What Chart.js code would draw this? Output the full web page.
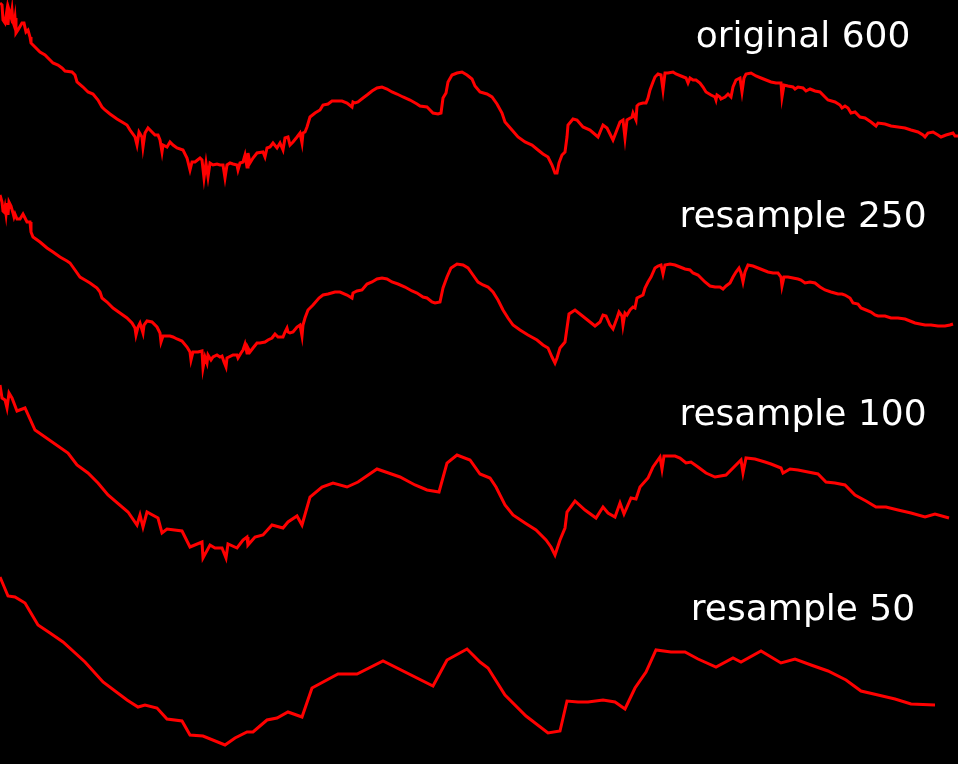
<!DOCTYPE html>
<html>
<head>
<meta charset="utf-8">
<script src="https://cdn.jsdelivr.net/npm/chart.js@4"></script>
<style>
  html, body { margin: 0; padding: 0; background: #000; }
  canvas { display: block; }
</style>
</head>
<body>
<canvas id="spec" width="958" height="764"></canvas>
<script>
// spectrum at the original resolution and three resampled versions
// x = wavelength channel, y = flux (arbitrary units)

const seriesNames = ["original 600", "resample 250", "resample 100", "resample 50"]

const waveOrig = [0,2,3,5,7,8,9,11,12,13,14,15,16,18,22,24,26,28,30,31,33,40,45,50,53,58,62,65,72,75,77,83,88,93,98,102,105,110,117,122,127,130,135,137,139,142,143,145,148,152,155,158,160,162,163,167,170,173,177,183,187,190,192,195,200,202,204,206,208,210,213,217,220,223,225,227,230,233,237,238,240,243,245,247,248,250,253,257,263,265,267,270,273,277,280,283,285,288,290,293,297,300,302,303,305,307,310,315,320,
  323,328,332,342,347,352,353,355,358,363,367,372,377,382,387,392,397,403,410,417,420,427,430,433,438,441,443,446,448,452,457,462,467,472,475,480,487,492,497,502,505,512,518,525,532,538,543,548,552,555,557,559,562,565,567,568,573,577,583,590,598,603,607,613,620,623,625,627,632,633,636,637,639,
  643,646,648,650,653,655,658,661,663,665,668,673,676,681,686,688,690,693,696,700,703,706,711,715,716,717,720,721,725,728,731,733,736,740,742,744,746,751,756,761,766,771,776,781,782,784,788,793,795,798,803,806,810,815,820,825,828,835,840,842,845,848,851,855,860,865,871,876,878,885,891,898,905,911,918,923,925,928,933,938,941,946,953,955,958]
const fluxOrig = [191,189,174,171,184,169,184,177,184,172,169,176,161,164,171,171,162,164,157,151,149,142,139,134,131,129,126,123,122,119,112,107,102,100,94,87,84,80,75,72,69,64,57,49,62,57,47,61,66,62,59,59,54,42,49,47,52,49,46,44,36,24,32,32,36,34,16,31,17,31,29,30,29,29,16,29,31,30,29,24,31,32,39,27,41,31,36,41,42,37,46,47,51,46,51,44,56,57,49,52,57,61,51,61,62,67,77,81,84,
  89,90,93,93,91,87,92,91,92,96,99,103,106,107,105,102,100,97,94,90,88,87,84,81,80,81,96,101,112,119,121,122,119,115,108,102,100,97,90,81,72,64,57,52,49,44,40,37,29,21,21,31,39,42,57,69,75,74,67,64,57,69,66,54,72,74,56,74,77,81,74,88,90,
  91,91,96,104,112,117,120,119,104,121,121,122,120,118,116,111,116,114,114,111,107,102,99,97,94,99,97,95,97,100,97,107,114,116,102,116,120,121,118,116,114,112,111,111,97,109,108,107,105,107,106,103,105,103,102,97,94,92,89,86,88,86,81,82,77,76,72,68,71,70,68,67,66,64,62,59,57,61,62,59,57,59,61,58,58]

const wave250 = [0,2,3,4,5,6,7,8,9,11,13,14,15,17,20,23,25,27,30,31,33,40,47,53,60,67,70,75,80,85,90,97,100,102,107,113,120,127,132,135,136,138,140,143,144,147,152,157,160,161,163,170,173,177,182,187,190,191,193,198,202,203,205,207,208,211,213,217,220,222,224,226,227,233,237,238,241,243,245,247,248,250,253,257,260,265,268,272,275,278,283,285,287,288,290,293,297,300,302,303,305,308,313,319,
  323,328,335,340,347,352,353,357,362,367,372,377,382,387,392,398,405,412,417,423,427,432,435,440,443,447,451,457,463,468,473,478,483,488,493,498,503,508,513,520,528,537,543,548,552,555,557,560,565,567,569,575,580,585,590,595,600,603,606,610,613,617,619,622,623,625,627,630,633,635,637,
  643,645,648,651,655,658,661,663,665,670,675,680,685,690,693,698,701,705,710,715,720,723,726,730,733,736,739,741,743,745,748,753,758,763,768,773,778,781,782,784,788,793,798,801,805,810,815,820,825,831,838,842,845,850,853,858,861,866,871,875,878,885,891,898,905,910,915,920,925,931,938,945,950,953]
const flux250 = [189,182,173,172,177,170,181,169,182,178,171,167,170,165,165,170,166,162,162,152,147,142,136,132,127,123,121,114,107,104,101,96,92,86,82,76,71,66,61,56,49,57,61,51,59,63,62,57,51,42,48,48,47,45,43,37,32,24,32,32,33,16,27,21,29,24,27,29,27,28,22,17,26,29,29,26,31,34,40,31,36,32,36,41,41,42,44,46,50,47,47,52,56,52,51,52,57,59,48,59,66,74,79,86,
  89,90,92,92,89,86,91,93,94,100,102,105,106,105,102,100,97,93,91,87,86,82,81,82,96,107,116,120,119,116,109,102,99,97,92,84,74,66,59,54,49,44,39,36,27,21,26,36,42,56,70,74,70,66,62,58,62,69,68,59,55,66,72,68,59,71,69,74,77,76,86,
  89,96,102,107,116,118,119,110,119,120,119,117,115,114,111,109,106,102,98,97,97,95,98,101,107,112,116,111,102,112,119,118,116,114,112,111,111,107,98,107,107,106,105,104,101,102,101,97,94,92,90,90,89,86,81,80,76,74,72,69,68,68,66,66,65,63,61,60,59,59,58,58,59,60]

const wave100 = [0,2,5,7,9,12,17,25,35,68,77,88,98,108,128,137,140,143,147,158,162,167,182,190,202,203,210,215,222,226,228,237,243,247,248,255,263,272,283,288,297,302,310,322,333,347,358,377,400,415,427,439,447,457,470,480,
  490,496,505,513,525,536,546,551,555,560,565,567,575,585,596,603,608,615,620,624,631,636,640,648,653,660,662,664,675,680,686,691,698,706,715,726,741,743,746,755,765,771,781,783,790,798,808,818,826,835,845,855,866,876,886,898,911,925,935,949]
const flux100 = [189,176,174,166,181,176,163,166,144,121,109,101,91,79,62,49,59,47,62,56,41,45,43,27,32,16,29,26,26,16,30,26,34,37,29,37,39,49,46,52,58,49,77,87,91,87,92,105,97,89,84,82,111,119,114,100,
  96,87,69,59,51,44,34,27,19,34,46,62,73,64,56,67,61,57,71,60,76,75,87,96,107,117,105,118,118,116,111,112,107,101,97,99,114,101,116,115,112,110,106,101,105,104,102,100,92,91,89,79,73,67,67,64,61,57,60,56]

const wave50 = [0,8,15,25,38,50,63,85,103,127,138,145,157,167,182,190,203,225,235,247,253,267,277,288,302,312,338,357,383,433,447,467,480,488,505,526,548,560,567,578,588,603,615,625,635,646,656,671,685,698,716,733,741,761,781,795,811,828,846,861,878,895,911,935]
const flux50 = [187,168,167,161,139,131,122,102,82,64,57,59,56,45,43,29,28,19,26,32,32,44,46,52,47,76,90,90,103,78,104,115,102,96,69,48,31,33,63,62,62,64,62,55,76,92,114,112,112,105,97,106,102,113,101,105,99,93,84,73,69,65,60,59]

// vertical shift applied to each spectrum so they stack
const offsets = [570, 380, 190, 0]

// where each name sits (x channel, y in shifted units)
const labelAt = { x: 803, y: [717, 537, 339, 144] }

const waves = [waveOrig, wave250, wave100, wave50]
const fluxes = [fluxOrig, flux250, flux100, flux50]

function toPoints(w, f, off){
    return w.map((x, i) => ({ x: x, y: f[i] + off }))
}

const labelPlugin = {
    id: "seriesLabels",
    afterDatasetsDraw(chart){
        const ctx = chart.ctx
        const xs = chart.scales.x
        const ys = chart.scales.y
        ctx.save()
        ctx.fillStyle = "#ffffff"
        ctx.font = "36px 'DejaVu Sans'"
        ctx.textAlign = "center"
        ctx.textBaseline = "alphabetic"
        seriesNames.forEach((name, i) => {
            ctx.fillText(name, xs.getPixelForValue(labelAt.x), ys.getPixelForValue(labelAt.y[i]))
        })
        ctx.restore()
    }
}

new Chart(document.getElementById("spec"), {
    type: "line",
    data: {
        datasets: seriesNames.map((name, i) => ({
            label: name,
            data: toPoints(waves[i], fluxes[i], offsets[i]),
            borderColor: "#ff0000",
            borderWidth: 3,
            pointRadius: 0,
            tension: 0,
            fill: false,
            clip: false
        }))
    },
    options: {
        responsive: false,
        animation: false,
        layout: { padding: 0 },
        plugins: {
            legend: { display: false },
            tooltip: { enabled: false }
        },
        scales: {
            x: { type: "linear", min: 0, max: 958, display: false },
            y: { type: "linear", min: 0, max: 764, display: false }
        }
    },
    plugins: [labelPlugin]
})
</script>
</body>
</html>
